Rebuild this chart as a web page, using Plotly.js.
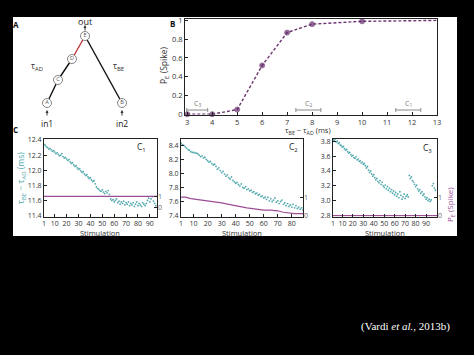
<!DOCTYPE html>
<html><head><meta charset="utf-8">
<script src="https://cdn.plot.ly/plotly-3.0.1.min.js"></script>
<style>html,body{margin:0;padding:0;background:#000;}#chart{width:474px;height:355px;}</style>
</head><body><div id="chart"></div>
<script>
const W = 474, H = 355;

// ---------- Panel A: schematic ----------
const nodeNames = ['A', 'B', 'C', 'D', 'E'];
const nodeX = [47, 122, 58, 72, 85];
const nodeY = [103, 103, 80, 59, 36];

// ---------- Panel B ----------
const bDelay = [3, 4, 5, 6, 7, 8, 10, 13];
const bProb = [0, 0, 0.05, 0.52, 0.87, 0.96, 0.99, 1.0];
const bMarkerSize = [5, 5, 5, 5, 5, 5, 5, 0];
const bRangeCenter = [3.4, 7.85, 11.85];
const bRangeHalf = [0.42, 0.5, 0.5];
const bRangeY = [0.045, 0.045, 0.045];
const bRangeLabels = ['C<sub>3</sub>', 'C<sub>2</sub>', 'C<sub>1</sub>'];

// ---------- Panel C ----------
const c1Delay = [12.34,12.33,12.31,12.30,12.28,12.29,12.27,12.25,12.26,12.24,
 12.22,12.23,12.21,12.19,12.20,12.22,12.18,12.16,12.17,12.15,
 12.13,12.14,12.11,12.09,12.10,12.07,12.05,12.06,12.03,12.01,
 12.02,11.99,11.97,11.98,11.95,11.93,11.94,11.91,11.89,11.90,
 11.87,11.85,11.86,11.82,11.78,11.76,11.75,11.73,11.72,11.74,
 11.71,11.69,11.72,11.70,11.73,11.68,11.62,11.60,11.61,11.58,
 11.60,11.62,11.57,11.59,11.55,11.58,11.56,11.59,11.54,11.57,
 11.55,11.58,11.53,11.56,11.54,11.57,11.52,11.55,11.58,11.53,
 11.56,11.54,11.52,11.57,11.55,11.53,11.56,11.60,11.63,11.58,
 11.62,11.65,11.59,11.56,11.53];
const c2Delay = [8.43,8.41,8.40,8.38,8.36,8.34,8.33,8.31,8.30,8.30,
 8.29,8.29,8.28,8.26,8.24,8.25,8.22,8.23,8.20,8.18,
 8.16,8.17,8.14,8.12,8.13,8.10,8.06,8.08,8.04,8.01,
 8.03,7.99,7.96,7.98,7.94,7.92,7.95,7.90,7.88,7.86,
 7.87,7.84,7.82,7.85,7.80,7.79,7.81,7.77,7.78,7.75,
 7.76,7.73,7.74,7.71,7.72,7.69,7.70,7.67,7.68,7.65,
 7.66,7.63,7.66,7.61,7.64,7.60,7.62,7.65,7.59,7.61,
 7.57,7.60,7.62,7.56,7.58,7.54,7.57,7.53,7.55,7.52,
 7.56,7.51,7.54,7.50,7.52,7.49,7.51,7.48];
const c3Delay = [3.82,3.81,3.83,3.79,3.80,3.77,3.78,3.75,3.74,3.72,
 3.73,3.70,3.68,3.69,3.66,3.64,3.65,3.62,3.60,3.61,
 3.58,3.57,3.59,3.55,3.56,3.53,3.54,3.51,3.52,3.49,
 3.50,3.47,3.44,3.46,3.41,3.38,3.40,3.36,3.33,3.35,
 3.31,3.28,3.30,3.26,3.24,3.27,3.22,3.25,3.20,3.18,
 3.21,3.16,3.19,3.14,3.17,3.12,3.15,3.10,3.13,3.08,
 3.11,3.06,3.09,3.04,3.12,3.07,3.02,3.05,3.09,3.03,
 3.06,3.08,3.05,3.34,3.30,3.32,3.27,3.25,3.22,3.19,
 3.21,3.16,3.13,3.15,3.10,3.12,3.07,3.09,3.05,3.02,
 3.04,3.00,3.02,2.99,3.01,3.20,3.23,3.17,3.14];
const c1SpikeStim = [1, 96];
const c1Spike = [1, 1];
const c2SpikeStim = [1,4,8,12,16,20,25,30,35,40,45,48,52,56,60,65,70,74,78,82,88];
const c2Spike = [1.0,1.0,0.92,0.88,0.85,0.77,0.73,0.69,0.61,0.53,0.49,0.42,0.38,0.34,0.30,0.30,0.26,0.18,0.14,0.11,0.11];
const c3SpikeStim = [1, 100.5];
const c3Spike = [0, 0];
const stim = arr => arr.map((_, i) => i + 1);

const TEAL = '#52a9ae';
const PURP = '#9c4d98';
const BPURP = '#6d3472';
const TXT = '#333';
const FONT = 'Open Sans, DejaVu Sans, sans-serif';

const traces = [];
// B
traces.push({x: bDelay, y: bProb, xaxis: 'x', yaxis: 'y', mode: 'lines+markers', type: 'scatter',
  line: {color: BPURP, width: 1.4, dash: '3px,2px'}, marker: {color: '#5e2a66', size: bMarkerSize}, cliponaxis: false});
traces.push({x: bRangeCenter, y: bRangeY, xaxis: 'x', yaxis: 'y', mode: 'markers', type: 'scatter',
  marker: {size: 0.1, color: '#888'},
  error_x: {type: 'data', array: bRangeHalf, color: '#8a8a8a', thickness: 1, width: 2}});
// C1
traces.push({x: stim(c1Delay), y: c1Delay, xaxis: 'x2', yaxis: 'y2', mode: 'markers', type: 'scatter',
  marker: {color: TEAL, size: 1.8}});
traces.push({x: c1SpikeStim, y: c1Spike, xaxis: 'x2', yaxis: 'y3', mode: 'lines', type: 'scatter',
  line: {color: PURP, width: 1.2}});
// C2
traces.push({x: stim(c2Delay), y: c2Delay, xaxis: 'x3', yaxis: 'y4', mode: 'markers', type: 'scatter',
  marker: {color: TEAL, size: 1.8}});
traces.push({x: c2SpikeStim, y: c2Spike, xaxis: 'x3', yaxis: 'y5', mode: 'lines', type: 'scatter',
  line: {color: PURP, width: 1.2}});
// C3
traces.push({x: stim(c3Delay), y: c3Delay, xaxis: 'x4', yaxis: 'y6', mode: 'markers', type: 'scatter',
  marker: {color: TEAL, size: 1.8}});
traces.push({x: c3SpikeStim, y: c3Spike, xaxis: 'x4', yaxis: 'y7', mode: 'lines', type: 'scatter',
  line: {color: PURP, width: 1.2}});
// A diagram edges + nodes
const idx = n => nodeNames.indexOf(n);
const edge = (a, b, color) => ({x: [nodeX[idx(a)], nodeX[idx(b)]], y: [nodeY[idx(a)], nodeY[idx(b)]],
  xaxis: 'x5', yaxis: 'y8', mode: 'lines', type: 'scatter', line: {color: color, width: 1.4}, hoverinfo: 'skip'});
traces.push(edge('A', 'C', '#111'));
traces.push(edge('C', 'D', '#111'));
traces.push(edge('D', 'E', '#c0393b'));
traces.push(edge('E', 'B', '#111'));
traces.push({x: nodeX, y: nodeY, text: nodeNames, xaxis: 'x5', yaxis: 'y8', mode: 'markers+text', type: 'scatter',
  textposition: 'middle center', textfont: {size: 5.5, color: '#555', family: FONT},
  marker: {size: 9, color: '#fff', line: {color: '#777', width: 0.9}}});

const dom = (a, b, total) => [a / total, b / total];
const ydom = (top, bot) => [1 - bot / H, 1 - top / H];
const baseAx = {showline: true, linecolor: '#222', linewidth: 1, mirror: true, ticks: 'inside', ticklen: 3,
  tickcolor: '#222', showgrid: false, zeroline: false, tickangle: 0, tickfont: {size: 7, color: TXT, family: FONT}};
const secAx = (anchor, overl, range) => Object.assign({}, baseAx, {overlaying: overl, side: 'right', anchor: anchor,
  range: range, tickvals: [0, 1], ticks: 'inside', mirror: false, showline: false,
  tickfont: {size: 7, color: '#666', family: FONT}});
const cTop = 139, cBot = 216.5;
const secRange = [-0.05, 4.15];

const layout = {
  width: W, height: H, margin: {l: 0, r: 0, t: 0, b: 0}, paper_bgcolor: '#000', plot_bgcolor: 'rgba(0,0,0,0)',
  showlegend: false, font: {family: FONT, color: TXT},
  xaxis: Object.assign({}, baseAx, {domain: dom(185, 437, W), anchor: 'y', range: [2.91, 13], tickvals: [3,4,5,6,7,8,9,10,11,12,13], tickfont: {size: 7.5, color: TXT, family: FONT}}),
  yaxis: Object.assign({}, baseAx, {domain: ydom(18.5, 114.5), anchor: 'x', range: [-0.003, 1.02], tickvals: [0, 0.2, 0.4, 0.6, 0.8, 1], ticktext: ['0','0.2','0.4','0.6','0.8','1'], tickfont: {size: 7.5, color: TXT, family: FONT}}),
  xaxis2: Object.assign({}, baseAx, {domain: dom(44, 157, W), anchor: 'y2', range: [1, 96], tickvals: [1,10,20,30,40,50,60,70,80,90]}),
  yaxis2: Object.assign({}, baseAx, {domain: ydom(cTop, cBot), anchor: 'x2', range: [11.387, 12.413], tickvals: [11.4,11.6,11.8,12.0,12.2,12.4], tickformat: '.1f'}),
  yaxis3: secAx('x2', 'y2', [-0.83, 6.2]),
  xaxis3: Object.assign({}, baseAx, {domain: dom(181, 303, W), anchor: 'y4', range: [1, 88], tickvals: [1,10,20,30,40,50,60,70,80]}),
  yaxis4: Object.assign({}, baseAx, {domain: ydom(cTop, cBot), anchor: 'x3', range: [7.386, 8.49], tickvals: [7.4,7.6,7.8,8.0,8.2,8.4], tickformat: '.1f'}),
  yaxis5: secAx('x3', 'y4', secRange),
  xaxis4: Object.assign({}, baseAx, {domain: dom(333, 437, W), anchor: 'y6', range: [1, 100.5], tickvals: [1,10,20,30,40,50,60,70,80,90]}),
  yaxis6: Object.assign({}, baseAx, {domain: ydom(cTop, cBot), anchor: 'x4', range: [2.787, 3.83], tickvals: [2.8,3.0,3.2,3.4,3.6,3.8], tickformat: '.1f'}),
  yaxis7: secAx('x4', 'y6', secRange),
  xaxis5: {domain: [0, 1], range: [0, W], visible: false, fixedrange: true, anchor: 'y8'},
  yaxis8: {domain: [0, 1], range: [H, 0], visible: false, fixedrange: true, anchor: 'x5'},
  shapes: [{type: 'rect', xref: 'paper', yref: 'paper', x0: 13 / W, x1: 457 / W, y0: 1 - 236 / H, y1: 1 - 17 / H,
    fillcolor: '#fff', line: {width: 0}, layer: 'below'}],
  annotations: []
};

const ann = (x, y, text, size, color, extra) => Object.assign({xref: 'paper', yref: 'paper', x: x / W, y: 1 - y / H,
  text: text, showarrow: false, xanchor: 'center', yanchor: 'middle', borderpad: 0,
  font: {size: size, color: color || TXT, family: FONT}}, extra || {});
const A = layout.annotations;
A.push(ann(16, 24, '<b>A</b>', 8, '#111'));
A.push(ann(172, 23, '<b>B</b>', 8, '#111'));
A.push(ann(16, 130, '<b>C</b>', 8, '#111'));
A.push(ann(85, 21, 'out', 9, '#222'));
A.push(ann(47, 124, 'in1', 8.5, '#222'));
A.push(ann(122, 124, 'in2', 8.5, '#222'));
A.push(ann(37, 67, 'τ<sub>AD</sub>', 8.5, '#333'));
A.push(ann(118, 67, 'τ<sub>BE</sub>', 8.5, '#333'));
const arrow = (x, y) => ({xref: 'paper', yref: 'paper', x: x / W, y: 1 - y / H, ax: 0, ay: 7, text: '',
  showarrow: true, arrowhead: 2, arrowsize: 0.6, arrowwidth: 1, arrowcolor: '#333'});
A.push(arrow(47, 110)); A.push(arrow(122, 110)); A.push(arrow(85, 25));
// B axis titles
A.push(ann(165, 66, 'P<sub>E</sub> (Spike)', 8.5, TXT, {textangle: -90}));
A.push(ann(308, 131.5, 'τ<sub>BE</sub> − τ<sub>AD</sub> (ms)', 7.5, TXT));
// C titles
A.push(ann(21, 178, 'τ<sub>BE</sub> − τ<sub>AD</sub> (ms)', 8.5, TEAL, {textangle: -90}));
A.push(ann(100, 232.5, 'Stimulation', 7.5, TXT));
A.push(ann(242, 232.5, 'Stimulation', 7.5, TXT));
A.push(ann(385, 232.5, 'Stimulation', 7.5, TXT));
A.push(ann(450, 205, 'P<sub>E</sub> (Spike)', 8, PURP, {textangle: -90}));
A.push(ann(141, 147, 'C<sub>1</sub>', 8.5, '#222'));
A.push(ann(293, 147, 'C<sub>2</sub>', 8.5, '#222'));
A.push(ann(427, 148, 'C<sub>3</sub>', 8.5, '#222'));
// B range labels
bRangeCenter.forEach((c, i) => A.push({xref: 'x', yref: 'y', x: c, y: bRangeY[i] + 0.07, text: bRangeLabels[i],
  showarrow: false, font: {size: 7, color: '#777', family: FONT}}));
// citation
A.push(ann(405, 326, '(Vardi <i>et al.</i>, 2013b)', 11, '#fff', {font: {size: 11, color: '#fff', family: 'Liberation Serif, DejaVu Serif, serif'}}));

Plotly.newPlot('chart', traces, layout, {displayModeBar: false, staticPlot: true});
</script></body></html>
